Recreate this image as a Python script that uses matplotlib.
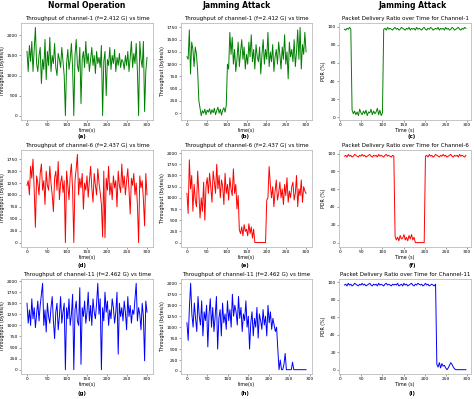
import numpy as np
import matplotlib
matplotlib.use("Agg")
import matplotlib.pyplot as plt
from matplotlib.ticker import MultipleLocator

# throughput series, one value every 3 s from 0 to 300 s
thr_time = np.arange(0, 301, 3)

ch1_normal = [1600, 1100, 1750, 1350, 1850, 1100, 1650, 2200, 1300, 1100,
              1500, 1700, 800, 1400, 1150, 1900, 900, 1600, 1250, 1950,
              1100, 1500, 1300, 1800, 1200, 1000, 1550, 1400, 1200, 1700,
              1350, 1000, 0, 1300, 1650, 1150, 1400, 1800, 1200, 0,
              1500, 1900, 1250, 1100, 1700, 300, 1400, 1600, 1200, 1850,
              1300, 1550, 1100, 1400, 1700, 1250, 1500, 1050, 1600, 1300,
              1450, 1200, 1750, 0, 1350, 1600, 500, 1400, 1250, 1700,
              1150, 1500, 1300, 1650, 1100, 1450, 1250, 1550, 1200, 1400,
              1350, 1150, 1500, 1250, 1600, 1100, 1450, 1850, 1200, 1550,
              1300, 1800, 1100, 0, 1850, 1400, 1200, 1850, 100, 1100,
              1450]

ch1_jam = [1150, 1100, 1700, 800, 1450, 1300, 950, 1350, 1200, 850,
           250, 100, -50, 50, 0, 80, -30, 60, 20, 90,
           -20, 70, 10, 100, -30, 50, 120, 0, 80, -40,
           60, 110, 20, 150, 1000, 900, 1650, 1200, 1550, 1000,
           1300, 850, 1100, 1450, 950, 1250, 1500, 1100, 1350, 900,
           1200, 1000, 1450, 1150, 1600, 1050, 1300, 900, 1400, 1150,
           1050, 1350, 800, 1200, 1500, 1000, 1300, 1100, 1650, 950,
           1250, 1050, 1400, 850, 1150, 1300, 1000, 1450, 1200, 900,
           1350, 1100, 1600, 1000, 1250, 700, 1450, 1150, 1300, 1050,
           1500, 950, 1250, 1700, 1100, 1750, 900, 1400, 1200, 1650,
           1250]

ch6_normal = [1200, 1300, 1000, 1600, 1350, 1750, 1100, 320, 1400, 1250,
              1000, 1450, 1650, 1100, 1300, 800, 1500, 1200, 1100, 1600,
              1250, 1000, 650, 1350, 1500, 1100, 1700, 900, 1250, 1400,
              1050, 1300, 0, 1500, 1200, 900, 1400, 1650, 1100, 0,
              1300, 1550, 1850, 1000, 1350, 1150, 1450, 700, 1250, 1100,
              1400, 950, 1300, 1600, 1150, 850, 1450, 1200, 1000, 1550,
              1250, 1050, 800, 120, 1500, 100, 1350, 1100, 1600, 1000,
              1250, 900, 1400, 1150, 1300, 750, 1500, 1200, 1050, 1650,
              1150, 1400, 1000, 1300, 1550, 1100, 600, 1350, 1200, 1450,
              1000, 1250, 800, 0, 1400, 1150, 1300, 900, 350, 1450,
              1000]

ch6_jam = [1100, 650, 1850, 1200, 1500, 700, 1300, 950, 800, 1600,
           1100, 550, 1000, 700, 1350, 500, 1250, 1450, 1100, 1550,
           1250, 900, 1600, 1350, 1100, 1750, 1200, 1500, 1000, 1400,
           1250, 850, 1550, 1100, 1300, 950, 1450, 1200, 1050, 1650,
           1100, 1300, 750, 1050, 280, 200, 350, 150, 400, 250,
           300, 150, 420, 200, 350, 100, 300, 0, 0, 0,
           0, 0, 0, 0, 0, 0, 0, 950, 1000, 1700,
           1300, 1000, 1250, 800, 1150, 1400, 950, 1100, 1350, 1000,
           1200, 850, 1300, 1050, 1450, 900, 1150, 1000, 1250, 1350,
           950, 1100, 1500, 800, 1200, 1050, 1400, 900, 1250, 1150,
           1100]

ch11_normal = [1500, 1050, 1350, 1000, 1600, 1150, 1400, 950, 1250, 1550,
               1100, 1450, 1700, 1950, 1000, 1350, 850, 1500, 1200, 1050,
               1400, 1650, 1100, 700, 1300, 1500, 900, 1200, 1650, 1050,
               1300, 1500, 0, 1400, 1150, 1600, 1000, 1250, 1700, 0,
               1350, 1550, 1100, 1000, 1850, 120, 1400, 1200, 1550, 1050,
               1300, 1750, 1100, 1450, 1000, 1600, 1300, 1150, 1500, 1950,
               1250, 1600, 0, 1400, 1100, 1750, 1300, 1550, 1000, 1350,
               1150, 1600, 1400, 1050, 1300, 1750, 350, 1500, 1200, 1400,
               1100, 1550, 1300, 900, 1650, 1200, 1450, 1050, 1350, 1250,
               1600, 1950, 1100, 1400, 1250, 900, 1500, 1200, 200, 1550,
               1300]

# channel-11 jamming run stops at 291 s
ch11_jam_time = np.arange(0, 292, 3)
ch11_jam = [1100, 700, 1450, 2000, 1300, 1000, 1550, 1200, 900, 1700,
            1250, 1050, 1600, 800, 1350, 1150, 1500, 550, 1300, 1650,
            1000, 1450, 900, 1250, 1700, 500, 1200, 1400, 800, 1550,
            1100, 1300, 950, 1600, 1150, 1400, 1000, 1750, 1250, 1500,
            1350, 1050, 1700, 1200, 1450, 900, 1300, 1150, 1600, 1000,
            1250, 500, 1100, 1350, 800, 1200, 1000, 1450, 750, 1300,
            1150, 950, 1400, 1050, 1250, 800, 1500, 1100, 1350, 950,
            1200, 1050, 900, 1000,
            500, 30, 250, 30, 30, 150, 400, 30, 30, 30,
            30, 30, 200, 30, 30, 30, 30, 30, 30, 30,
            30, 30, 30, 30]

# PDR series, one value every 3 s from 10 to 298 s
pdr_time = np.arange(10, 299, 3)

pdr_ch1 = [97, 96, 98, 97, 99, 97,
           8, 4, 7, 3, 6, 2, 9, 5, 3, 7, 4, 8, 2, 6, 5, 9, 3, 7, 4, 6, 10, 3, 8, 2, 5,
           97, 98, 96, 99, 97, 98, 97, 96, 98, 99,
           97, 98, 96, 97, 99, 98, 97, 96, 98, 97,
           99, 96, 98, 97, 98, 96, 99, 97, 98, 97,
           96, 98, 99, 97, 96, 98, 97, 99, 98, 96,
           97, 98, 97, 99, 96, 98, 97, 98, 96, 99,
           97, 98, 96, 97, 99, 98, 96, 97, 98, 99,
           97, 96, 98, 97, 99, 98]

pdr_ch6 = [97, 98, 96, 99, 97, 98, 96, 97, 99, 98,
           97, 96, 98, 97, 99, 97, 98, 96, 97, 98,
           99, 97, 96, 98, 97, 98, 96, 99, 97, 98,
           97, 96, 98, 99, 97, 98, 97, 96, 98, 97,
           7, 3, 6, 2, 8, 4, 5, 9, 3, 6, 2, 8, 4, 9, 3, 6,
           0, 0, 0, 0, 0, 0, 0, 0,
           97, 98, 96, 99, 97, 98, 96, 97, 99, 98,
           97, 96, 98, 97, 99, 97, 98, 96, 97, 98,
           99, 97, 96, 98, 97, 98, 96, 99, 97, 98,
           97, 96, 98]

pdr_ch11 = [97, 98, 96, 99, 97, 98, 96, 97, 99, 98,
            97, 96, 98, 97, 99, 97, 98, 96, 97, 98,
            99, 97, 96, 98, 97, 98, 96, 99, 97, 98,
            97, 96, 98, 99, 97, 98, 97, 96, 98, 97,
            98, 97, 99, 96, 97, 98, 96, 99, 97, 98,
            96, 97, 98, 99, 97, 96, 98, 97, 99, 98,
            97, 98, 96, 97, 99, 97, 98, 96, 97, 98,
            97, 96, 98,
            6, 3, 8, 2, 7, 4, 5, 2, 0, 2, 5, 8, 6, 3, 1, 0,
            0, 0, 0, 0, 0, 0, 0, 0]

col_titles = ["Normal Operation", "Jamming Attack", "Jamming Attack"]
channels = ["1", "6", "11"]
freqs = ["2.412", "2.437", "2.462"]
colors = ["green", "red", "blue"]
letters = ["(a)", "(b)", "(c)", "(d)", "(e)", "(f)", "(g)", "(h)", "(i)"]

W, H = 474, 399
fig = plt.figure(figsize=(W / 100, H / 100), dpi=100)

col_left = [21, 181, 339]
col_right = [153, 312, 471]
row_top = [23, 150, 279]
row_bot = [120, 247, 374]


def make_ax(r, c):
    l, rgt = col_left[c], col_right[c]
    t, b = row_top[r], row_bot[r]
    ax = fig.add_axes([l / W, 1 - b / H, (rgt - l) / W, (b - t) / H])
    for s in ax.spines.values():
        s.set_color("#bbbbbb")
        s.set_linewidth(0.6)
    ax.tick_params(labelsize=3.2, length=1.5, width=0.4, pad=0.8, color="#555555")
    ax.xaxis.set_major_locator(MultipleLocator(50))
    return ax


def labels(ax, title, xl, yl):
    ax.set_title(title, fontsize=4, pad=2)
    ax.set_xlabel(xl, fontsize=3.4, labelpad=0.5)
    ax.set_ylabel(yl, fontsize=3.4, labelpad=1)


series = [
    (thr_time, ch1_normal, thr_time, ch1_jam, pdr_ch1, 500, 250),
    (thr_time, ch6_normal, thr_time, ch6_jam, pdr_ch6, 250, 250),
    (thr_time, ch11_normal, ch11_jam_time, ch11_jam, pdr_ch11, 250, 250),
]

for r in range(3):
    t_n, y_n, t_j, y_j, pdr, step_n, step_j = series[r]
    col = colors[r]
    thr_title = f"Throughput of channel-{channels[r]} (f={freqs[r]} G) vs time"

    ax = make_ax(r, 0)
    ax.plot(t_n, y_n, color=col, lw=0.7)
    ax.yaxis.set_major_locator(MultipleLocator(step_n))
    labels(ax, thr_title, "time(s)", "Throughput (bytes/s)")

    ax = make_ax(r, 1)
    ax.plot(t_j, y_j, color=col, lw=0.7)
    ax.yaxis.set_major_locator(MultipleLocator(step_j))
    if r == 1:
        ax.set_ylim(-100, 2070)  # channel-6 attack panel shows the 2000 tick
    labels(ax, thr_title, "time(s)", "Throughput (bytes/s)")

    ax = make_ax(r, 2)
    ax.plot(pdr_time, pdr, color=col, lw=0.7)
    ax.set_xlim(-3, 310)
    ax.yaxis.set_major_locator(MultipleLocator(20))
    labels(ax, f"Packet Delivery Ratio over Time for Channel-{channels[r]}",
           "Time (s)", "PDR (%)")

# column headings
for x, txt in zip([87, 237, 412], col_titles):
    fig.text(x / W, 1 - 5 / H, txt, ha="center", va="center",
             fontsize=5.5, fontweight="bold")

# panel letters
letter_x = [82, 245, 412]
letter_y = [137, 265, 394]
for r in range(3):
    for c in range(3):
        fig.text(letter_x[c] / W, 1 - letter_y[r] / H, letters[r * 3 + c],
                 ha="center", va="center", fontsize=4, fontweight="bold")

fig.savefig("out.png", dpi=100)
